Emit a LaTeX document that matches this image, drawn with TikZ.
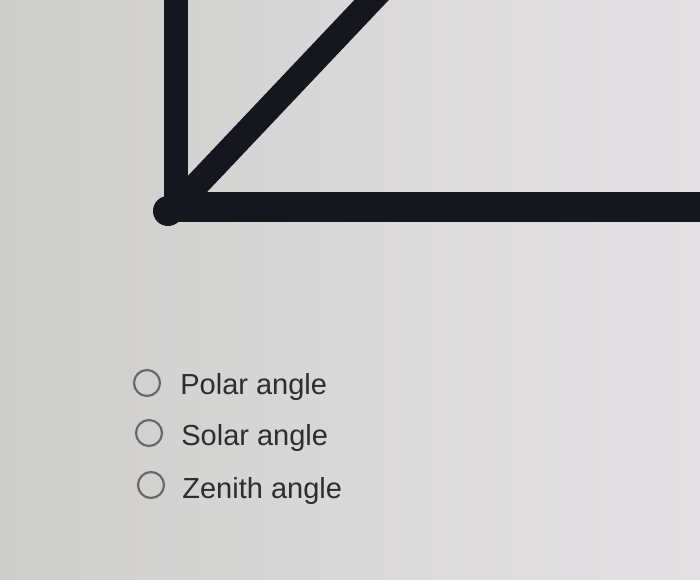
\documentclass[tikz,border=0pt]{standalone}
\usepackage{fontspec}
\setmainfont{Liberation Sans}
\definecolor{bgc}{RGB}{226,224,226}
\definecolor{bgd}{RGB}{205,205,203}
\definecolor{ink}{RGB}{22,22,30}
\definecolor{txt}{RGB}{45,45,45}
\definecolor{radio}{RGB}{105,105,105}
\tikzset{
  stroke/.style={draw=ink, line cap=round},
  radiobtn/.style={circle, draw=radio, line width=1.1pt, minimum size=13pt, inner sep=0pt},
  optlabel/.style={anchor=base west, inner sep=0pt, text=txt, font=\fontsize{14.5pt}{17pt}\selectfont}
}
\begin{document}
\begin{tikzpicture}[x=0.5pt,y=-0.5pt]
\useasboundingbox (0,0) rectangle (700,579);
\shade[left color=bgd, right color=bgc, middle color=bgc!60!bgd] (0,0) rectangle (700,579);
% lines
\draw[stroke, line width=12pt, line cap=butt] (176,0) -- (176,205);
\draw[stroke, line width=12.5pt] (381,-10) -- (187,195);
\draw[stroke, line width=15pt, line cap=butt] (170,207) -- (700,207);
\fill[ink] (168,211) circle (7.5pt);
% options
\node[radiobtn] (r1) at (147,383) {};
\node[radiobtn] (r2) at (149,433) {};
\node[radiobtn] (r3) at (151,485) {};
\node[optlabel] (t1) at (180,394) {Polar angle};
\node[optlabel] (t2) at (181,445) {Solar angle};
\node[optlabel] (t3) at (182,498) {Zenith angle};
\end{tikzpicture}
\end{document}
